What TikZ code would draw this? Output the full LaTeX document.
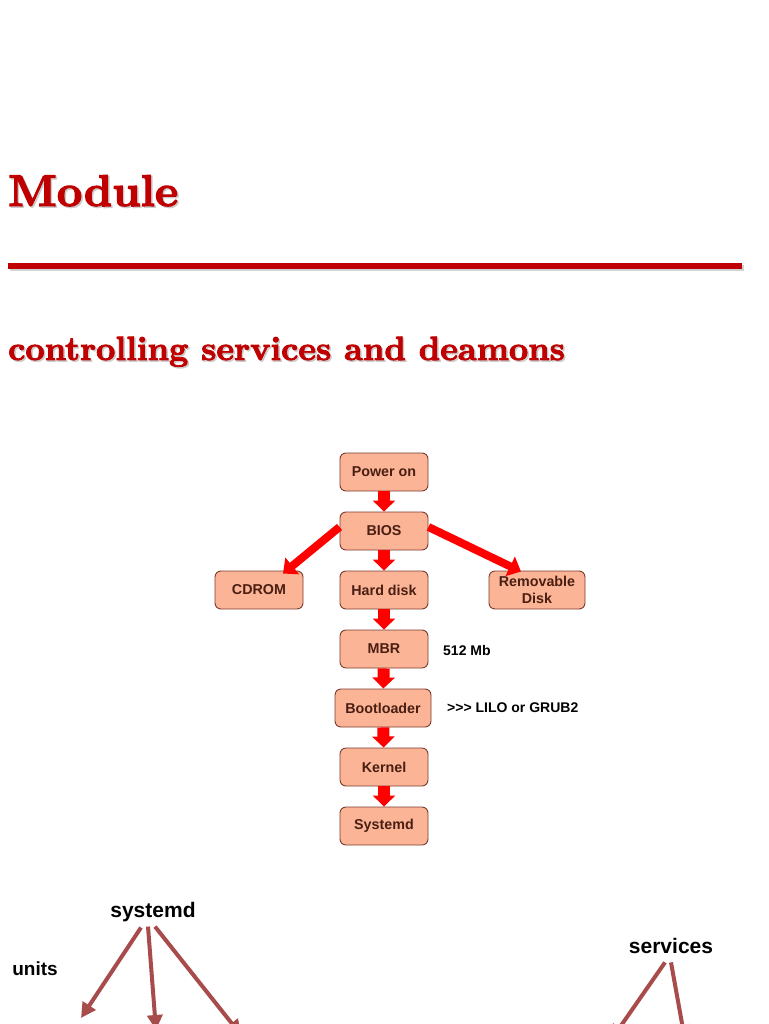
\documentclass[tikz,border=0pt]{standalone}
\usepackage{fontspec}
\newfontfamily\arial{Liberation Sans}
\newfontfamily\gordo{lmroman10-bold.otf}[FakeBold=2.5]
\usetikzlibrary{arrows.meta,positioning}

\definecolor{titulo}{HTML}{C00000}
\definecolor{caja}{HTML}{FBB596}
\definecolor{borde}{HTML}{7A3B2E}
\definecolor{textocaja}{HTML}{4A1E12}
\definecolor{flechaoscura}{HTML}{A84B4B}

\begin{document}
\begin{tikzpicture}[x=1pt,y=-1pt,
  encabezado/.style={anchor=base west, inner sep=0pt},
  paso/.style={draw=borde, line width=0.9pt, fill=caja, rounded corners=6pt, minimum width=88pt,
    minimum height=38pt, inner sep=2pt, text=textocaja, align=center,
    font=\arial\bfseries\fontsize{14.3}{16.5}\selectfont},
  salto/.style={red, line width=12pt, -{Triangle[length=11pt,width=22pt]}},
  rama/.style={red, line width=8pt, -{Triangle[length=12pt,width=21pt]}},
  nota/.style={anchor=west, inner sep=0pt, font=\arial\bfseries\fontsize{14}{16}\selectfont},
  etiqueta/.style={anchor=base, inner sep=0pt, font=\arial\bfseries\fontsize{21}{24}\selectfont},
  unidad/.style={draw=flechaoscura, line width=4pt, -{Triangle[length=15pt,width=15pt]}}
]
\clip (0,0) rectangle (768,1024);

% Titulo
\node[encabezado, text=gray!40, font=\gordo\fontsize{44.5}{50}\selectfont] at (9.5,207.5) {Module};
\node[encabezado, text=titulo, font=\gordo\fontsize{44.5}{50}\selectfont] (modulo) at (8,206) {Module};
\draw[gray!35, line width=6pt] (9.5,267.5) -- (743.5,267.5);
\draw[titulo, line width=6pt] (8,266) -- (742,266);
\node[encabezado, text=gray!40, font=\gordo\fontsize{33.6}{36}\selectfont] at (9.5,361.5) {controlling services and deamons};
\node[encabezado, text=titulo, font=\gordo\fontsize{33.6}{36}\selectfont] (tema) at (8,360) {controlling services and deamons};

% Arranque
\node[paso] (encendido) at (384,472) {Power on};
\node[paso] (bios) at (384,531) {BIOS};
\node[paso] (cdrom) at (259,590) {CDROM};
\node[paso] (disco) at (384,590) {Hard disk};
\node[paso, minimum width=96pt] (extraible) at (537,590) {Removable\\Disk};
\node[paso] (mbr) at (384,649) {MBR};
\node[paso, minimum width=96pt] (cargador) at (383,708) {Bootloader};
\node[paso] (nucleo) at (384,767) {Kernel};
\node[paso] (sistema) at (384,826) {Systemd};

\node[nota] (tamano) at (443,650) {512 Mb};
\node[nota] (grub) at (447,708) {>{}>{}> LILO or GRUB2};

% Flechas del arranque
\draw[salto] (encendido) -- (bios);
\draw[salto] (bios) -- (disco);
\draw[salto] (disco) -- (mbr);
\draw[salto] (mbr) -- (cargador);
\draw[salto] (cargador) -- (nucleo);
\draw[salto] (nucleo) -- (sistema);
\draw[rama] ([yshift=4pt]bios.west) -- ([xshift=24pt,yshift=-3pt]cdrom.north);
\draw[rama] ([yshift=4pt]bios.east) -- ([xshift=-16pt,yshift=-1pt]extraible.north);

% systemd y services
\node[etiqueta] (sistemad) at (153,917) {systemd};
\node[etiqueta, font=\arial\bfseries\fontsize{19}{22}\selectfont] (unidades) at (35,975) {units};
\node[etiqueta] (servicios) at (671,953) {services};

\coordinate (u1) at (81,1018);
\coordinate (u2) at (156,1030);
\coordinate (u3) at (241,1035);
\coordinate (s1) at (611,1040);
\coordinate (s2) at (685,1040);

\draw[unidad] ([xshift=-12pt,yshift=-6pt]sistemad.south) -- (u1);
\draw[unidad] ([xshift=-5pt,yshift=-5pt]sistemad.south) -- (u2);
\draw[unidad] ([xshift=2pt,yshift=-5pt]sistemad.south) -- (u3);
\draw[unidad] ([xshift=-6pt,yshift=-9pt]servicios.south) -- (s1);
\draw[unidad] ([yshift=-9pt]servicios.south) -- (s2);

\end{tikzpicture}
\end{document}
